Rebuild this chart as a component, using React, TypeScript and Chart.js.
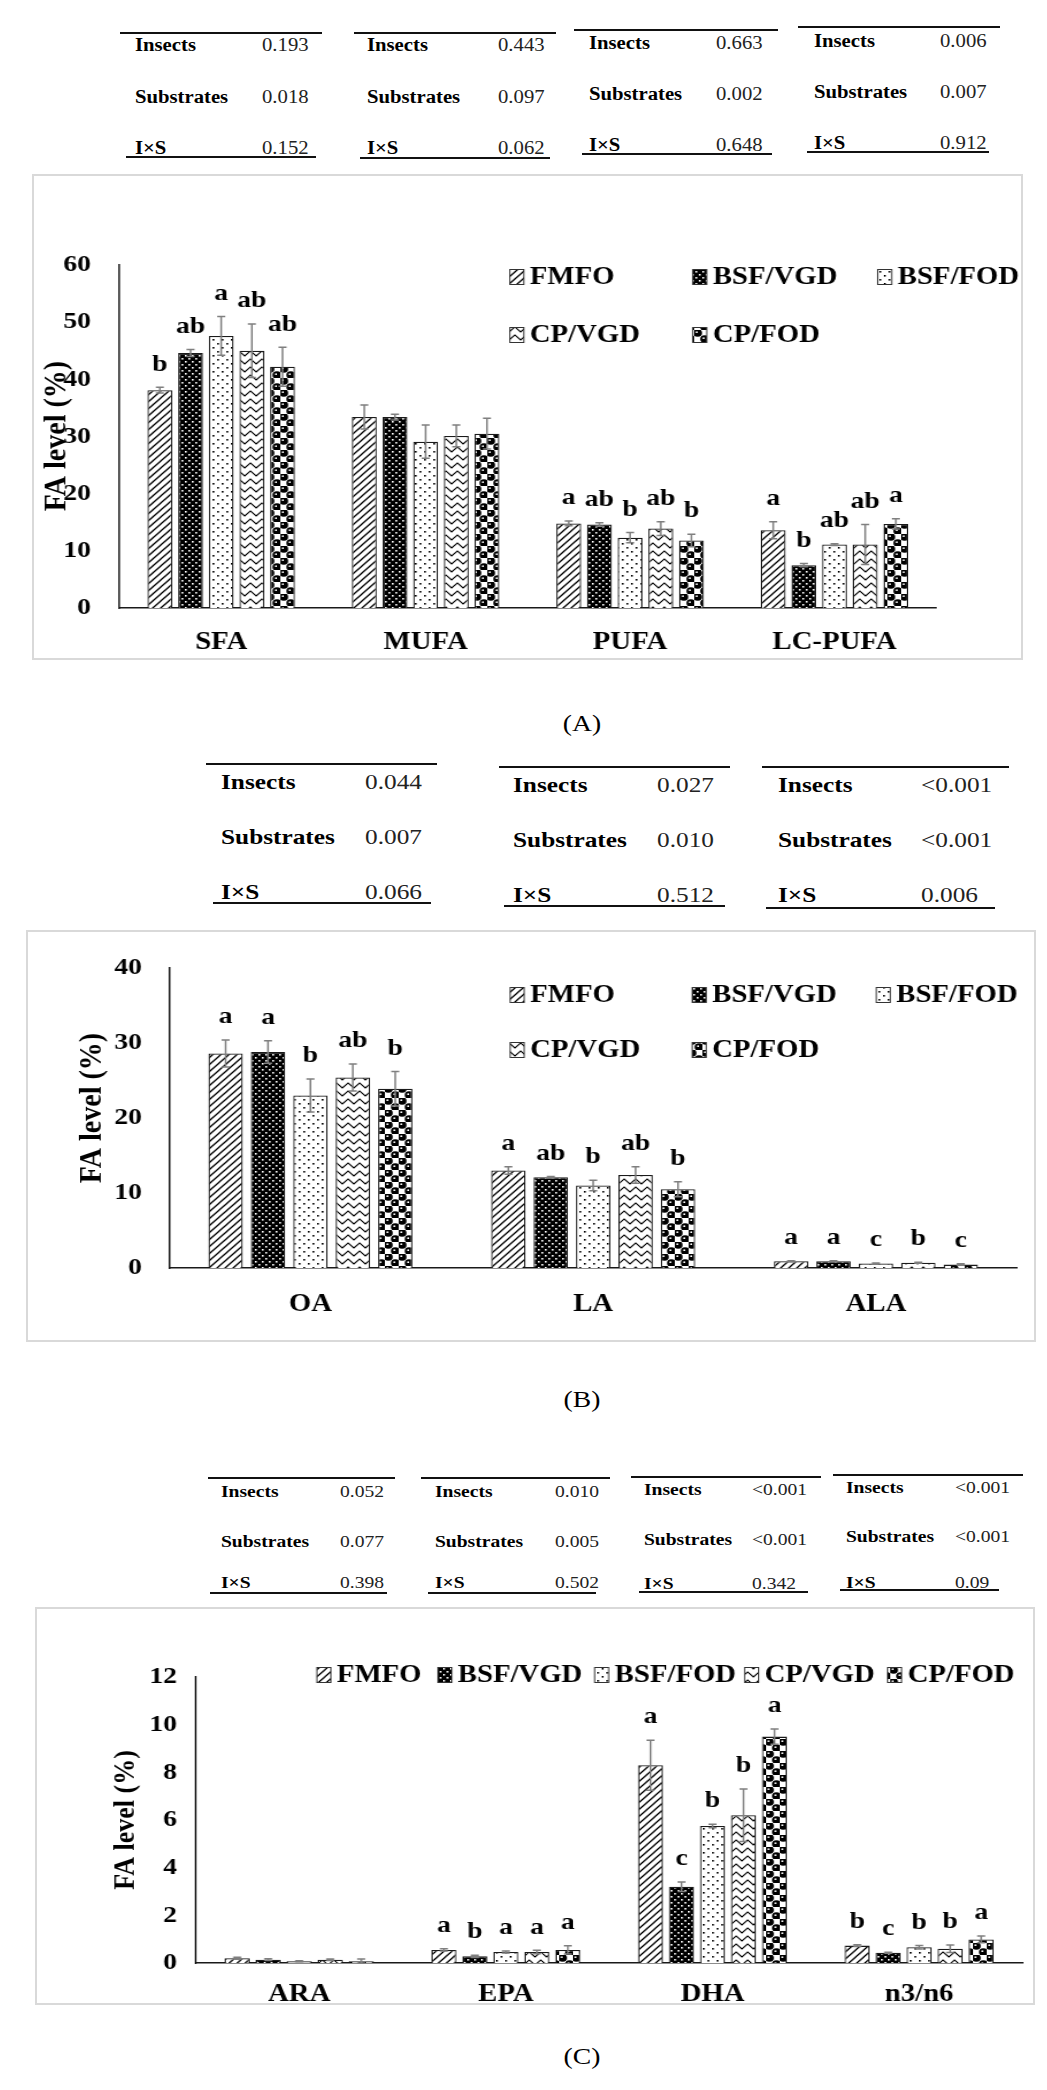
import React, { useEffect, useRef } from "react";
import { Chart, registerables } from "chart.js";

Chart.register(...registerables);

const S = 1.15; // horizontal stretch of the original figure
const FONT = "'Times New Roman', 'Liberation Serif', serif";

const SERIES = ["FMFO", "BSF/VGD", "BSF/FOD", "CP/VGD", "CP/FOD"];
const ROW_LABELS = ["Insects", "Substrates", "I\u00d7S"];
const Y_TITLE = "FA level (%)";

// ---------- Panel A ----------
const A_CATS = ["SFA", "MUFA", "PUFA", "LC-PUFA"];
const A_FMFO = [38.1, 33.4, 14.8, 13.6];
const A_BSF_VGD = [44.6, 33.4, 14.6, 7.5];
const A_BSF_FOD = [47.6, 29.1, 12.3, 11.1];
const A_CP_VGD = [45.0, 30.1, 13.9, 11.1];
const A_CP_FOD = [42.2, 30.5, 11.8, 14.7];
const A_ERR_FMFO = [0.5, 2.1, 0.4, 1.5];
const A_ERR_BSF_VGD = [0.6, 0.5, 0.3, 0.3];
const A_ERR_BSF_FOD = [3.4, 2.9, 0.9, 0.15];
const A_ERR_CP_VGD = [4.7, 1.9, 1.2, 3.5];
const A_ERR_CP_FOD = [3.4, 2.7, 1.1, 0.9];
const A_LET_FMFO = ["b", "", "a", "a"];
const A_LET_BSF_VGD = ["ab", "", "ab", "b"];
const A_LET_BSF_FOD = ["a", "", "b", "ab"];
const A_LET_CP_VGD = ["ab", "", "ab", "ab"];
const A_LET_CP_FOD = ["ab", "", "b", "a"];
const A_YMAX = 60;
const A_YSTEP = 10;
const A_TAB_INSECTS = ["0.193", "0.443", "0.663", "0.006"];
const A_TAB_SUBSTRATES = ["0.018", "0.097", "0.002", "0.007"];
const A_TAB_IXS = ["0.152", "0.062", "0.648", "0.912"];

// ---------- Panel B ----------
const B_CATS = ["OA", "LA", "ALA"];
const B_FMFO = [28.6, 13.0, 0.9];
const B_BSF_VGD = [28.8, 12.1, 0.9];
const B_BSF_FOD = [23.0, 11.0, 0.6];
const B_CP_VGD = [25.4, 12.4, 0.7];
const B_CP_FOD = [23.9, 10.5, 0.45];
const B_ERR_FMFO = [1.8, 0.5, 0.08];
const B_ERR_BSF_VGD = [1.5, 0.1, 0.06];
const B_ERR_BSF_FOD = [2.2, 0.7, 0.05];
const B_ERR_CP_VGD = [1.8, 1.1, 0.08];
const B_ERR_CP_FOD = [2.3, 1.0, 0.1];
const B_LET_FMFO = ["a", "a", "a"];
const B_LET_BSF_VGD = ["a", "ab", "a"];
const B_LET_BSF_FOD = ["b", "b", "c"];
const B_LET_CP_VGD = ["ab", "ab", "b"];
const B_LET_CP_FOD = ["b", "b", "c"];
const B_YMAX = 40;
const B_YSTEP = 10;
const B_TAB_INSECTS = ["0.044", "0.027", "<0.001"];
const B_TAB_SUBSTRATES = ["0.007", "0.010", "<0.001"];
const B_TAB_IXS = ["0.066", "0.512", "0.006"];

// ---------- Panel C ----------
const C_CATS = ["ARA", "EPA", "DHA", "n3/n6"];
const C_FMFO = [0.2, 0.55, 8.3, 0.73];
const C_BSF_VGD = [0.14, 0.28, 3.2, 0.43];
const C_BSF_FOD = [0.07, 0.46, 5.75, 0.66];
const C_CP_VGD = [0.14, 0.46, 6.2, 0.6];
const C_CP_FOD = [0.07, 0.55, 9.5, 0.99];
const C_ERR_FMFO = [0.04, 0.05, 1.05, 0.04];
const C_ERR_BSF_VGD = [0.04, 0.05, 0.2, 0.02];
const C_ERR_BSF_FOD = [0.02, 0.04, 0.07, 0.07];
const C_ERR_CP_VGD = [0.03, 0.07, 1.1, 0.16];
const C_ERR_CP_FOD = [0.1, 0.17, 0.32, 0.14];
const C_LET_FMFO = ["", "a", "a", "b"];
const C_LET_BSF_VGD = ["", "b", "c", "c"];
const C_LET_BSF_FOD = ["", "a", "b", "b"];
const C_LET_CP_VGD = ["", "a", "b", "b"];
const C_LET_CP_FOD = ["", "a", "a", "a"];
const C_YMAX = 12;
const C_YSTEP = 2;
const C_TAB_INSECTS = ["0.052", "0.010", "<0.001", "<0.001"];
const C_TAB_SUBSTRATES = ["0.077", "0.005", "<0.001", "<0.001"];
const C_TAB_IXS = ["0.398", "0.502", "0.342", "0.09"];

// ---------- layout (page pixels) ----------
const GEO_A = {
  box: { x: 32, y: 174, w: 991, h: 486 },
  axisX: 119, axisEnd: 937, yTop: 265, y0: 608, tickRight: 91, xLabelPad: 20,
  title: { x: 57, y: 436, size: 28 },
  legend: [
    { x: 510, y: 277 }, { x: 693, y: 277 }, { x: 878, y: 277 },
    { x: 510, y: 335 }, { x: 693, y: 335 },
  ],
};
const GEO_B = {
  box: { x: 26, y: 930, w: 1010, h: 412 },
  axisX: 169, axisEnd: 1017, yTop: 947, y0: 1268, tickRight: 142, xLabelPad: 22,
  title: { x: 92, y: 1108, size: 28 },
  legend: [
    { x: 510, y: 995 }, { x: 692, y: 995 }, { x: 876, y: 995 },
    { x: 510, y: 1050 }, { x: 692, y: 1050 },
  ],
};
const GEO_C = {
  box: { x: 35, y: 1607, w: 1000, h: 398 },
  axisX: 196, axisEnd: 1023, yTop: 1677, y0: 1963, tickRight: 177, xLabelPad: 17,
  title: { x: 126, y: 1820, size: 26 },
  legend: [
    { x: 317, y: 1675 }, { x: 438, y: 1675 }, { x: 595, y: 1675 },
    { x: 745, y: 1675 }, { x: 888, y: 1675 },
  ],
};

const TAB_GEO_A = {
  size: 18,
  tables: [
    { top: [120, 322, 33], bot: [126, 316, 157], lx: 135, vx: 262, rows: [45, 97, 148] },
    { top: [354, 556, 33], bot: [360, 550, 158], lx: 367, vx: 498, rows: [45, 97, 148] },
    { top: [574, 778, 30], bot: [582, 772, 154], lx: 589, vx: 716, rows: [43, 94, 145] },
    { top: [798, 1000, 27], bot: [807, 989, 152], lx: 814, vx: 940, rows: [41, 92, 143] },
  ],
};
const TAB_GEO_B = {
  size: 22,
  tables: [
    { top: [206, 437, 764], bot: [213, 431, 903], lx: 221, vx: 365, rows: [782, 837, 892] },
    { top: [499, 730, 767], bot: [504, 725, 906], lx: 513, vx: 657, rows: [785, 840, 895] },
    { top: [762, 1009, 767], bot: [766, 995, 908], lx: 778, vx: 921, rows: [785, 840, 895] },
  ],
};
const TAB_GEO_C = {
  size: 17,
  tables: [
    { top: [208, 395, 1478], bot: [210, 387, 1593], lx: 221, vx: 340, rows: [1492, 1542, 1583] },
    { top: [421, 610, 1478], bot: [428, 596, 1593], lx: 435, vx: 555, rows: [1492, 1542, 1583] },
    { top: [631, 821, 1477], bot: [639, 808, 1592], lx: 644, vx: 752, rows: [1490, 1540, 1584] },
    { top: [833, 1023, 1475], bot: [840, 999, 1590], lx: 846, vx: 955, rows: [1488, 1537, 1583] },
  ],
};

function makePatterns(ctx: CanvasRenderingContext2D): any[] {
  const mk = (w: number, h: number, draw: (g: CanvasRenderingContext2D) => void) => {
    const c = document.createElement("canvas");
    c.width = w;
    c.height = h;
    const g = c.getContext("2d") as CanvasRenderingContext2D;
    draw(g);
    return ctx.createPattern(c, "repeat");
  };
  return [
    // FMFO: upward diagonal lines
    mk(7, 7, (g) => {
      g.fillStyle = "#fff";
      g.fillRect(0, 0, 7, 7);
      g.strokeStyle = "#000";
      g.lineWidth = 1.3;
      g.beginPath();
      g.moveTo(-1, 8); g.lineTo(8, -1);
      g.moveTo(-1, 1); g.lineTo(1, -1);
      g.moveTo(6, 8); g.lineTo(8, 6);
      g.stroke();
    }),
    // BSF/VGD: black with white dots
    mk(6, 6, (g) => {
      g.fillStyle = "#000";
      g.fillRect(0, 0, 6, 6);
      g.fillStyle = "#fff";
      g.fillRect(1, 1, 1.6, 1.6);
      g.fillRect(4, 4, 1.6, 1.6);
    }),
    // BSF/FOD: white with black dots
    mk(8, 8, (g) => {
      g.fillStyle = "#fff";
      g.fillRect(0, 0, 8, 8);
      g.fillStyle = "#000";
      g.fillRect(1, 1, 1.6, 1.6);
      g.fillRect(5, 5, 1.6, 1.6);
    }),
    // CP/VGD: zigzag rows
    mk(10, 8, (g) => {
      g.fillStyle = "#fff";
      g.fillRect(0, 0, 10, 8);
      g.strokeStyle = "#000";
      g.lineWidth = 1.1;
      g.beginPath();
      g.moveTo(-1, 0); g.lineTo(5, 6); g.lineTo(11, 0);
      g.moveTo(-1, 8); g.lineTo(1, 10);
      g.moveTo(9, 10); g.lineTo(11, 8);
      g.stroke();
    }),
    // CP/FOD: checker of spheres
    mk(12, 12, (g) => {
      g.fillStyle = "#fff";
      g.fillRect(0, 0, 12, 12);
      g.fillStyle = "#000";
      [[3, 3], [9, 9]].forEach(([cx, cy]) => {
        g.beginPath();
        g.arc(cx, cy, 3.8, 0, Math.PI * 2);
        g.fill();
      });
      g.fillStyle = "#fff";
      [[2.2, 2.2], [8.2, 8.2]].forEach(([cx, cy]) => {
        g.beginPath();
        g.arc(cx, cy, 0.9, 0, Math.PI * 2);
        g.fill();
      });
    }),
  ];
}

function BarPanel(props: any) {
  const { cats, values, errs, letters, yMax, yStep, geo } = props;
  const ref = useRef<HTMLCanvasElement>(null);
  const cw = Math.round(geo.box.w / S);
  const chH = geo.box.h;

  useEffect(() => {
    const canvas = ref.current as HTMLCanvasElement;
    const ctx0 = canvas.getContext("2d") as CanvasRenderingContext2D;
    const patterns = makePatterns(ctx0);
    const toC = (X: number) => (X - geo.box.x) / S;
    const toY = (Y: number) => Y - geo.box.y;
    const yAxisW = toC(geo.axisX);
    const xAxisH = geo.box.y + geo.box.h - geo.y0;

    const overlay = {
      id: "overlay",
      afterDatasetsDraw(chart: any) {
        const c = chart.ctx as CanvasRenderingContext2D;
        const ys = chart.scales.y;
        c.save();
        // error bars
        c.strokeStyle = "#7f7f7f";
        c.lineWidth = 1.5;
        const cap = 3.5;
        SERIES.forEach((_, i) => {
          const meta = chart.getDatasetMeta(i);
          meta.data.forEach((bar: any, j: number) => {
            const v = values[i][j];
            const e = errs[i][j];
            const yt = ys.getPixelForValue(v + e);
            const yb = ys.getPixelForValue(Math.max(0, v - e));
            const x = bar.x;
            c.beginPath();
            c.moveTo(x, yt); c.lineTo(x, yb);
            c.moveTo(x - cap, yt); c.lineTo(x + cap, yt);
            c.moveTo(x - cap, yb); c.lineTo(x + cap, yb);
            c.stroke();
          });
        });
        // significance letters
        c.fillStyle = "#000";
        c.font = `bold 24px ${FONT}`;
        c.textAlign = "center";
        c.textBaseline = "middle";
        SERIES.forEach((_, i) => {
          const meta = chart.getDatasetMeta(i);
          meta.data.forEach((bar: any, j: number) => {
            const t = letters[i][j];
            if (!t) return;
            const yt = ys.getPixelForValue(values[i][j] + errs[i][j]);
            c.fillText(t, bar.x, yt - 23);
          });
        });
        c.restore();
      },
      afterDraw(chart: any) {
        const c = chart.ctx as CanvasRenderingContext2D;
        c.save();
        // y title
        c.fillStyle = "#000";
        c.font = `bold ${geo.title.size}px ${FONT}`;
        c.textAlign = "center";
        c.textBaseline = "middle";
        c.translate(toC(geo.title.x), toY(geo.title.y));
        c.rotate(-Math.PI / 2);
        c.fillText(Y_TITLE, 0, 0);
        c.restore();
        // legend
        c.save();
        c.font = `bold 25px ${FONT}`;
        c.textAlign = "left";
        c.textBaseline = "middle";
        SERIES.forEach((name, i) => {
          const p = geo.legend[i];
          const bx = toC(p.x);
          const by = toY(p.y) - 7.5;
          c.fillStyle = patterns[i];
          c.fillRect(bx, by, 14 / S, 15);
          c.strokeStyle = "#333";
          c.lineWidth = 1;
          c.strokeRect(bx, by, 14 / S, 15);
          c.fillStyle = "#000";
          c.fillText(name, toC(p.x + 20), toY(p.y) + 1);
        });
        c.restore();
      },
    };

    const chart = new Chart(canvas, {
      type: "bar",
      data: {
        labels: cats,
        datasets: SERIES.map((name, i) => ({
          label: name,
          data: values[i],
          backgroundColor: patterns[i],
          borderColor: "#1a1a1a",
          borderWidth: 1.3,
          categoryPercentage: 0.75,
          barPercentage: 0.81,
        })),
      },
      options: {
        animation: false,
        responsive: false,
        devicePixelRatio: 1,
        events: [],
        layout: {
          padding: {
            left: 0,
            right: cw - toC(geo.axisEnd),
            top: toY(geo.yTop),
            bottom: 0,
          },
        },
        plugins: {
          legend: { display: false },
          tooltip: { enabled: false },
          title: { display: false },
        },
        scales: {
          x: {
            grid: { display: false, drawTicks: false },
            border: { display: true, color: "#1a1a1a", width: 1.5 },
            ticks: { color: "#000", font: { family: FONT, size: 25, weight: "bold" }, padding: geo.xLabelPad, maxRotation: 0, autoSkip: false },
            afterFit: (s: any) => { s.height = xAxisH; },
          },
          y: {
            min: 0,
            max: yMax,
            grid: { display: false, drawTicks: false },
            border: { display: true, color: "#1a1a1a", width: 1.5 },
            ticks: { stepSize: yStep, color: "#000", font: { family: FONT, size: 24, weight: "bold" }, padding: (geo.axisX - geo.tickRight) / S },
            afterFit: (s: any) => { s.width = yAxisW; },
          },
        },
      },
      plugins: [overlay],
    } as any);
    return () => chart.destroy();
  }, []);

  return (
    <>
      <div
        style={{
          position: "absolute",
          left: geo.box.x,
          top: geo.box.y,
          width: geo.box.w,
          height: geo.box.h,
          border: "2px solid #d9d9d9",
          boxSizing: "border-box",
        }}
      />
      <canvas
        ref={ref}
        width={cw}
        height={chH}
        style={{
          position: "absolute",
          left: geo.box.x,
          top: geo.box.y,
          width: geo.box.w,
          height: geo.box.h,
        }}
      />
    </>
  );
}

function TextAt(props: any) {
  const { x, y, size, bold, color, children } = props;
  const lh = Math.round(size * 1.2);
  return (
    <div
      style={{
        position: "absolute",
        left: x,
        top: y - lh / 2,
        height: lh,
        lineHeight: `${lh}px`,
        fontSize: size,
        fontWeight: bold ? "bold" : "normal",
        color: color || "#000",
        whiteSpace: "nowrap",
        transform: `scaleX(${S})`,
        transformOrigin: "0 50%",
      }}
    >
      {children}
    </div>
  );
}

function StatTables(props: any) {
  const { geo, insects, substrates, ixs } = props;
  const cols = [insects, substrates, ixs];
  return (
    <>
      {geo.tables.map((t: any, k: number) => (
        <React.Fragment key={k}>
          <div style={{ position: "absolute", left: t.top[0], top: t.top[2] - 1, width: t.top[1] - t.top[0], height: 0, borderTop: "2px solid #111" }} />
          <div style={{ position: "absolute", left: t.bot[0], top: t.bot[2] - 1, width: t.bot[1] - t.bot[0], height: 0, borderTop: "2px solid #111" }} />
          {ROW_LABELS.map((lab, r) => (
            <React.Fragment key={r}>
              <TextAt x={t.lx} y={t.rows[r]} size={geo.size} bold>{lab}</TextAt>
              <TextAt x={t.vx} y={t.rows[r]} size={geo.size} color="#222">{cols[r][k]}</TextAt>
            </React.Fragment>
          ))}
        </React.Fragment>
      ))}
    </>
  );
}

function Caption(props: any) {
  return (
    <div
      style={{
        position: "absolute",
        left: props.x - 100,
        top: props.y - 15,
        width: 200,
        height: 30,
        lineHeight: "30px",
        textAlign: "center",
        fontSize: 24,
        transform: `scaleX(${S})`,
        transformOrigin: "50% 50%",
      }}
    >
      {props.text}
    </div>
  );
}

export default function App() {
  return (
    <div
      style={{
        position: "absolute",
        left: 0,
        top: 0,
        width: 1047,
        height: 2090,
        background: "#fff",
        overflow: "hidden",
        fontFamily: FONT,
        color: "#000",
      }}
    >
      <StatTables geo={TAB_GEO_A} insects={A_TAB_INSECTS} substrates={A_TAB_SUBSTRATES} ixs={A_TAB_IXS} />
      <BarPanel
        cats={A_CATS}
        values={[A_FMFO, A_BSF_VGD, A_BSF_FOD, A_CP_VGD, A_CP_FOD]}
        errs={[A_ERR_FMFO, A_ERR_BSF_VGD, A_ERR_BSF_FOD, A_ERR_CP_VGD, A_ERR_CP_FOD]}
        letters={[A_LET_FMFO, A_LET_BSF_VGD, A_LET_BSF_FOD, A_LET_CP_VGD, A_LET_CP_FOD]}
        yMax={A_YMAX}
        yStep={A_YSTEP}
        geo={GEO_A}
      />
      <Caption x={582} y={723} text="(A)" />

      <StatTables geo={TAB_GEO_B} insects={B_TAB_INSECTS} substrates={B_TAB_SUBSTRATES} ixs={B_TAB_IXS} />
      <BarPanel
        cats={B_CATS}
        values={[B_FMFO, B_BSF_VGD, B_BSF_FOD, B_CP_VGD, B_CP_FOD]}
        errs={[B_ERR_FMFO, B_ERR_BSF_VGD, B_ERR_BSF_FOD, B_ERR_CP_VGD, B_ERR_CP_FOD]}
        letters={[B_LET_FMFO, B_LET_BSF_VGD, B_LET_BSF_FOD, B_LET_CP_VGD, B_LET_CP_FOD]}
        yMax={B_YMAX}
        yStep={B_YSTEP}
        geo={GEO_B}
      />
      <Caption x={582} y={1399} text="(B)" />

      <StatTables geo={TAB_GEO_C} insects={C_TAB_INSECTS} substrates={C_TAB_SUBSTRATES} ixs={C_TAB_IXS} />
      <BarPanel
        cats={C_CATS}
        values={[C_FMFO, C_BSF_VGD, C_BSF_FOD, C_CP_VGD, C_CP_FOD]}
        errs={[C_ERR_FMFO, C_ERR_BSF_VGD, C_ERR_BSF_FOD, C_ERR_CP_VGD, C_ERR_CP_FOD]}
        letters={[C_LET_FMFO, C_LET_BSF_VGD, C_LET_BSF_FOD, C_LET_CP_VGD, C_LET_CP_FOD]}
        yMax={C_YMAX}
        yStep={C_YSTEP}
        geo={GEO_C}
      />
      <Caption x={582} y={2056} text="(C)" />
    </div>
  );
}
